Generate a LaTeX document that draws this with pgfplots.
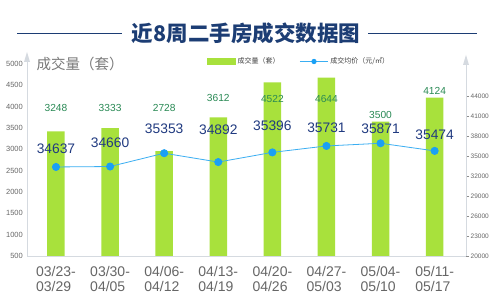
\documentclass[border=0pt]{standalone}
\usepackage{pgfplots}
\pgfplotsset{compat=1.18}
\usepackage{pgfplotstable}
\usepackage{fontspec}
\setmainfont{Liberation Sans}
\newfontfamily\cjk{Noto Sans CJK SC}
\usetikzlibrary{arrows.meta}
\definecolor{barGreen}{HTML}{A8E13C}
\definecolor{lineBlue}{HTML}{3AAEF2}
\definecolor{dotBlue}{HTML}{1AA0F5}
\definecolor{labGreen}{HTML}{2A8A55}
\definecolor{labNavy}{HTML}{203A80}
\definecolor{titleNavy}{HTML}{1C3D74}
\definecolor{axGray}{HTML}{D5DAE0}
\definecolor{tickGray}{HTML}{666666}

\pgfplotstableread{
x vol
0 3248
1 3333
2 2728
3 3612
4 4522
5 4644
6 3500
7 4124
}\voldata
\pgfplotstableread{
x price
0 34637
1 34660
2 35353
3 34892
4 35396
5 35731
6 35871
7 35474
}\pricedata
% label positions (in the volume axis units) and label texts
\pgfplotstableread{
x ly lab
0 3846 3248
1 3846 3333
2 3846 2728
3 4107 3612
4 4089 4522
5 4089 4644
6 3672 3500
7 4305 4124
}\vollabels
\pgfplotstableread{
x ly lab
0 2805 34637
1 2951 34660
2 3307 35353
3 3281 34892
4 3393 35396
5 3341 35731
6 3307 35871
7 3151 35474
}\pricelabels

\begin{document}
\begin{tikzpicture}[x=1pt,y=1pt]
\fill[white] (0,0) rectangle (491,304);
\path[use as bounding box] (0,0) rectangle (491,304);
% title
\draw[titleNavy, line width=0.9pt] (17,270.3) -- (122,270.3);
\draw[titleNavy, line width=0.9pt] (368,270.3) -- (477,270.3);
\node[titleNavy, font=\cjk\bfseries\fontsize{21.5}{24}\selectfont] at (246,270.3) {近8周二手房成交数据图};
\node[anchor=west, color=black!52, font=\cjk\fontsize{14.5}{16}\selectfont, inner sep=0pt] at (36.5,240) {成交量（套）};

\begin{axis}[
  at={(27pt,48pt)}, anchor=south west,
  scale only axis, width=439pt, height=192pt,
  xmin=-0.536, xmax=7.58, ymin=0, ymax=5000,
  axis x line*=bottom, axis y line*=left,
  axis line style={draw=axGray, line width=0.8pt, -},
  xtick={0,...,7},
  xticklabels={{03/23-\\03/29},{03/30-\\04/05},{04/06-\\04/12},{04/13-\\04/19},{04/20-\\04/26},{04/27-\\05/03},{05/04-\\05/10},{05/11-\\05/17}},
  xticklabel style={align=left, anchor=north, yshift=-10pt, inner sep=0pt, font=\fontsize{14}{15.5}\selectfont, color=tickGray},
  major x tick style={draw=none},
  scaled y ticks=false,
  ytick={0,555.56,1111.11,1666.67,2222.22,2777.78,3333.33,3888.89,4444.44,5000},
  yticklabels={500,1000,1500,2000,2500,3000,3500,4000,4500,5000},
  yticklabel style={anchor=east, inner sep=0pt, xshift=-4pt, font=\fontsize{7.5}{8}\selectfont, color=tickGray},
  major y tick style={draw=none},
  clip=false,
]
\addplot[ybar, bar width=17.5pt, fill=barGreen, draw=none] table[x=x, y=vol] {\voldata};
\addplot[draw=none, mark=none, nodes near coords, point meta=explicit symbolic,
  nodes near coords style={anchor=center, inner sep=0pt, font=\fontsize{10.2}{11}\selectfont, color=labGreen}]
  table[x=x, y=ly, meta=lab] {\vollabels};
\addplot[draw=none, mark=none, nodes near coords, point meta=explicit symbolic,
  nodes near coords style={anchor=center, inner sep=0pt, font=\fontsize{13.8}{15}\selectfont, color=labNavy}]
  table[x=x, y=ly, meta=lab] {\pricelabels};
\draw[axGray, line width=0.8pt] (axis description cs:0,1) -- (axis description cs:0,1.03);
\fill[axGray] (axis description cs:0,1.0625) -- ++(-3pt,-10pt) -- ++(6pt,0pt) -- cycle;
\end{axis}

\begin{axis}[
  at={(27pt,48pt)}, anchor=south west,
  scale only axis, width=439pt, height=192pt,
  xmin=-0.536, xmax=7.58, ymin=30000, ymax=40000,
  axis x line=none, axis y line*=right,
  axis line style={draw=axGray, line width=0.8pt, -},
  scaled y ticks=false,
  ytick={30000,31037.5,32075,33112.5,34150,35187.5,36225,37262.5,38300},
  yticklabels={20000,23000,26000,29000,32000,35000,38000,41000,44000},
  tick align=outside, major tick length=3pt,
  major y tick style={draw=black!45, line width=0.5pt},
  yticklabel style={anchor=west, inner sep=0pt, xshift=1.5pt, font=\fontsize{6.5}{7}\selectfont, color=tickGray},
  clip=false,
  legend columns=2,
  legend style={at={(axis description cs:0.41,1.013)}, anchor=west, draw=none, fill=none, inner sep=0pt,
    font=\cjk\fontsize{7}{8}\selectfont, text=black!75,
    /tikz/every even column/.append style={column sep=18pt}},
]
\addlegendimage{legend image code/.code={\fill[barGreen] (0pt,-3pt) rectangle (28pt,3pt);}}
\addlegendentry{成交量（套）}
\addplot[lineBlue, line width=0.8pt, mark=*, mark size=3.6pt, mark options={fill=dotBlue, draw=dotBlue},
  legend image code/.code={\draw[lineBlue, line width=0.8pt] (0pt,0pt) -- (28pt,0pt); \fill[dotBlue] (14pt,0pt) circle (2.2pt);}]
  table[x=x, y=price] {\pricedata};
\addlegendentry{成交均价（元/㎡）}
\draw[axGray, line width=0.8pt] (axis description cs:1,1) -- (axis description cs:1,1.02);
\fill[axGray] (axis description cs:1,1.047) -- ++(-3pt,-10pt) -- ++(6pt,0pt) -- cycle;
\end{axis}
\end{tikzpicture}
\end{document}
